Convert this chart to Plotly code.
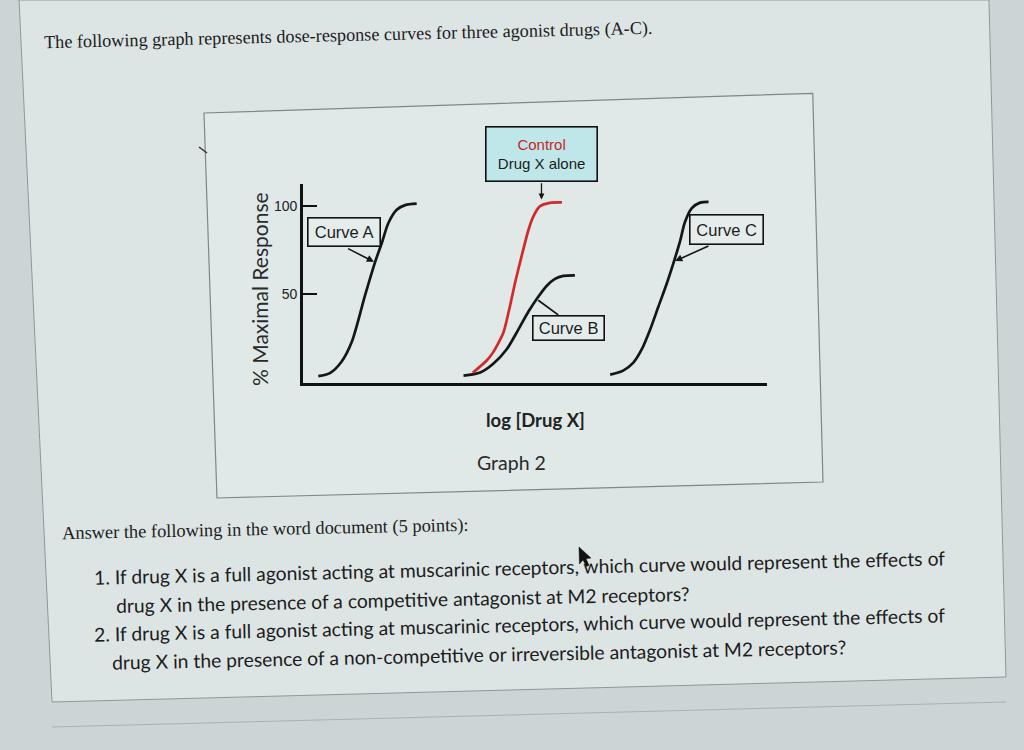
import plotly.graph_objects as go

# dose-response curves (x = log dose in arbitrary units, y = % max response)
log_a = [0.33, 0.58, 0.83, 1.05, 1.34, 1.55, 1.70, 1.84, 2.02, 2.20, 2.45]
resp_a = [3.9, 5.6, 12.0, 23.1, 49.7, 67.9, 79.1, 90.2, 97.7, 100.3, 101.1]

log_ctrl = [3.66, 3.96, 4.10, 4.32, 4.46, 4.57, 4.71, 4.86, 4.96, 5.11, 5.32, 5.58]
resp_ctrl = [5.8, 12.7, 17.4, 28.5, 43.3, 56.5, 71.4, 86.4, 93.7, 99.7, 101.6, 101.8]

log_b = [3.46, 3.82, 4.10, 4.39, 4.64, 4.86, 5.07, 5.25, 5.43, 5.61, 5.86]
resp_b = [4.2, 5.9, 10.8, 19.0, 30.1, 40.3, 48.6, 54.7, 58.7, 60.4, 60.7]

log_c = [6.62, 6.90, 7.12, 7.30, 7.48, 7.66, 7.84, 7.98, 8.13, 8.23, 8.38, 8.56, 8.74]
resp_c = [4.7, 7.0, 11.5, 18.9, 30.0, 43.1, 56.1, 67.3, 80.3, 90.6, 98.6, 101.7, 102.1]

y_ticks = [50, 100]
y_ticktext = ['50', '100']

W, H = 1024, 750


def px(x, y):
    # pixel position -> paper coords
    return x / W, 1 - y / H


def path(points):
    s = ''
    for i, (x, y) in enumerate(points):
        u, v = px(x, y)
        s += ('M' if i == 0 else 'L') + '%.4f,%.4f ' % (u, v)
    return s + 'Z'


narrow = 'Liberation Sans Narrow, Liberation Sans, Arial'
ink = '#1c1c1c'

fig = go.Figure()

fig.add_trace(go.Scatter(x=log_a, y=resp_a, mode='lines',
                         line=dict(color='#161616', width=2.7, shape='spline', smoothing=0.8)))
fig.add_trace(go.Scatter(x=log_b, y=resp_b, mode='lines',
                         line=dict(color='#161616', width=2.7, shape='spline', smoothing=0.8)))
fig.add_trace(go.Scatter(x=log_ctrl, y=resp_ctrl, mode='lines',
                         line=dict(color='#d22a2a', width=2.7, shape='spline', smoothing=0.6)))
fig.add_trace(go.Scatter(x=log_c, y=resp_c, mode='lines',
                         line=dict(color='#161616', width=2.7, shape='spline', smoothing=0.8)))

shapes = [
    # page sheet
    dict(type='path', xref='paper', yref='paper', layer='below',
         path=path([(19, 0), (989, 0), (1006, 677), (52, 702)]),
         fillcolor='#dde4e4', line=dict(color='#8f9899', width=1)),
    dict(type='line', xref='paper', yref='paper', layer='below',
         x0=px(52, 727)[0], y0=px(52, 727)[1], x1=px(1006, 702)[0], y1=px(1006, 702)[1],
         line=dict(color='#a9b1b2', width=1)),
    # frame round the graph
    dict(type='path', xref='paper', yref='paper', layer='below',
         path=path([(204, 113), (812.7, 93.3), (823, 482), (217, 498)]),
         fillcolor='#e0e8e8', line=dict(color='#7f8788', width=1.2)),
    dict(type='line', xref='paper', yref='paper',
         x0=px(199, 147)[0], y0=px(199, 147)[1], x1=px(207, 153)[0], y1=px(207, 153)[1],
         line=dict(color='#333', width=1.5)),
    # mouse pointer
    dict(type='path', xref='paper', yref='paper',
         path=path([(579, 547), (579.5, 564), (583, 560), (586.5, 566.5), (589, 565.3), (586, 558.8), (591, 558)]),
         fillcolor='#111', line=dict(color='#111', width=0.5)),
    # Curve B pointer line
    dict(type='line', xref='x', yref='y', x0=5.07, y0=46.7, x1=5.50, y1=38.4,
         line=dict(color='#161616', width=1.8)),
]

annotations = [
    dict(text='The following graph represents dose-response curves for three agonist drugs (A-C).',
         x=px(348, 35.5)[0], y=px(348, 35.5)[1], textangle=-1.35,
         font=dict(family='Liberation Serif', size=18.2, color=ink)),
    dict(text='Answer the following in the word document (5 points):',
         x=px(265, 529)[0], y=px(265, 529)[1], textangle=-1.17,
         font=dict(family='Liberation Serif', size=18.4, color=ink)),
    dict(text='1. If drug X is a full agonist acting at muscarinic receptors, which curve would represent the effects of',
         x=px(519, 567)[0], y=px(519, 567)[1], textangle=-1.3,
         font=dict(family='Lato', size=19.3, color=ink)),
    dict(text='drug X in the presence of a competitive antagonist at M2 receptors?',
         x=px(402.7, 599.5)[0], y=px(402.7, 599.5)[1], textangle=-1.2,
         font=dict(family='Lato', size=19.3, color=ink)),
    dict(text='2. If drug X is a full agonist acting at muscarinic receptors, which curve would represent the effects of',
         x=px(519.7, 624.5)[0], y=px(519.7, 624.5)[1], textangle=-1.3,
         font=dict(family='Lato', size=19.3, color=ink)),
    dict(text='drug X in the presence of a non-competitive or irreversible antagonist at M2 receptors?',
         x=px(478.5, 654.2)[0], y=px(478.5, 654.2)[1], textangle=-1.2,
         font=dict(family='Lato', size=19.3, color=ink)),
    # axis titles and caption
    dict(text='% Maximal Response', x=px(259, 289)[0], y=px(259, 289)[1], textangle=-90,
         font=dict(family='Lato', size=21, color='#2a2a2a')),
    dict(text='<b>log [Drug X]</b>', x=px(535, 420)[0], y=px(535, 420)[1],
         font=dict(family='Lato', size=18.5, color='#222')),
    dict(text='Graph 2', x=px(511, 462)[0], y=px(511, 462)[1],
         font=dict(family='Lato', size=19.5, color='#2a2a2a')),
    # control label sits above the y range, so it goes in paper coords
    dict(text="<span style='color:#c8262a'>Control</span><br>Drug X alone",
         x=px(541, 154.4)[0], y=px(541, 154.4)[1], width=106, height=49,
         bordercolor='#111', borderwidth=1.6, borderpad=2, bgcolor='#bfe7e9',
         font=dict(family=narrow, size=15, color=ink)),
]
for a in annotations:
    a.update(xref='paper', yref='paper', showarrow=False, xanchor='center', yanchor='middle')

# boxed labels on the curves
box = dict(xref='x', yref='y', showarrow=False, bordercolor='#111', borderwidth=1.6,
           borderpad=2, bgcolor='#e4ecec', xanchor='center', yanchor='middle')
annotations += [
    dict(box, text='Curve A', x=0.88, y=85.0, width=67, height=23,
         font=dict(family=narrow, size=16.5, color=ink)),
    dict(box, text='Curve B', x=5.73, y=30.8, width=66, height=19,
         font=dict(family=narrow, size=16.5, color=ink)),
    dict(box, text='Curve C', x=9.13, y=86.3, width=68, height=24,
         font=dict(family=narrow, size=16.5, color=ink)),
]

# arrows from the labels to the curves
arrow = dict(xref='x', yref='y', axref='x', ayref='y', text='', showarrow=True,
             arrowhead=2, arrowsize=0.9, arrowwidth=1.6, arrowcolor='#161616')
annotations += [
    dict(arrow, x=1.53, y=68.3, ax=0.94, ay=76.2),
    dict(arrow, x=8.02, y=68.8, ax=8.77, ay=77.6),
    dict(arrow, x=5.14, y=103.5, ax=5.14, ay=113.4, arrowwidth=1.3),
]

fig.update_layout(
    width=W, height=H,
    margin=dict(l=0, r=0, t=0, b=0),
    paper_bgcolor='#cdd4d5',
    plot_bgcolor='rgba(0,0,0,0)',
    showlegend=False,
    shapes=shapes,
    annotations=annotations,
    xaxis=dict(domain=[303 / W, 767 / W], range=[0, 10], showgrid=False, zeroline=False,
               showline=True, linecolor='#111', linewidth=2.7, showticklabels=False, ticks=''),
    yaxis=dict(domain=[1 - 383 / H, 1 - 184 / H], range=[0, 112.2], showgrid=False, zeroline=False,
               showline=True, linecolor='#111', linewidth=2.7,
               tickvals=y_ticks, ticktext=y_ticktext, ticks='inside', ticklen=14,
               tickwidth=2.4, tickcolor='#111',
               tickfont=dict(family='Liberation Sans', size=14, color='#222')),
)

# drop the browser's default body margin so the figure sits at 0,0
fig.write_html('out.html', config={'displayModeBar': False},
               post_script="document.body.style.margin='0';document.body.style.background='#cdd4d5';")
